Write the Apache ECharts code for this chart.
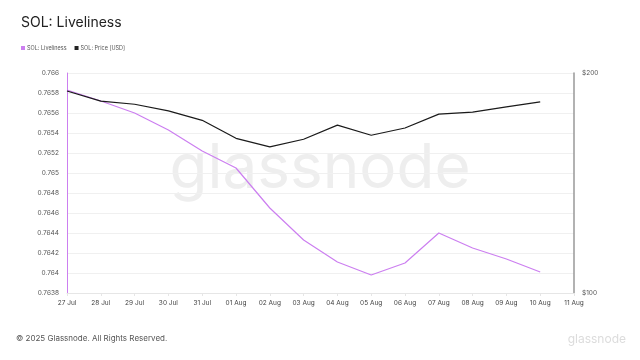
<!DOCTYPE html>
<html><head><meta charset="utf-8">
<script src="https://cdn.jsdelivr.net/npm/echarts@6/dist/echarts.min.js"></script>
<style>html,body{margin:0;padding:0;background:#fff}#c{width:640px;height:360px}</style>
</head><body><div id="c"></div>
<script>
const categories = ['27 Jul','28 Jul','29 Jul','30 Jul','31 Jul','01 Aug','02 Aug','03 Aug','04 Aug','05 Aug','06 Aug','07 Aug','08 Aug','09 Aug','10 Aug','11 Aug'];
const liveliness = [0.76583,0.76572,0.7656,0.76543,0.76522,0.76505,0.76465,0.76433,0.76411,0.76398,0.7641,0.7644,0.76425,0.76414,0.76401];
const price = [191.8,187.2,185.8,182.8,178.5,170.3,166.4,169.9,176.3,171.7,175.0,181.3,182.2,184.6,186.9];
const leftMin = 0.7638, leftMax = 0.766, leftStep = 0.0002;
const rightMin = 100, rightMax = 200;

const chart = echarts.init(document.getElementById('c'), null, {renderer:'canvas'});
const FONT = 'Inter, "Liberation Sans", sans-serif';
chart.setOption({
  animation:false,
  backgroundColor:'#fff',
  textStyle:{fontFamily:FONT},
  title:{text:'SOL: Liveliness', left:16, top:11, textStyle:{fontSize:14, fontWeight:'normal', color:'#222', fontFamily:FONT}},
  legend:{left:16, top:40, itemWidth:4, itemHeight:4, itemGap:8, icon:'rect',
    textStyle:{fontSize:5.5, color:'#555', fontFamily:FONT, padding:[0,0,0,-3]},
    data:[{name:'SOL: Liveliness', itemStyle:{color:'#cc7ff0'}},{name:'SOL: Price [USD]', itemStyle:{color:'#222'}}]},
  grid:{left:67, right:66, top:73, bottom:67},
  graphic:[
    {type:'text', left:'center', top:138, z:-1, style:{text:'glassnode', fontSize:62, fontWeight:'normal', fill:'#eeeeee', fontFamily:FONT}},
    {type:'text', left:16, top:335, style:{text:'© 2025 Glassnode. All Rights Reserved.', fontSize:8, fill:'#555', fontFamily:FONT}},
    {type:'text', right:14, top:333, style:{text:'glassnode', fontSize:12, fill:'#dcdcdc', fontFamily:FONT}}
  ],
  xAxis:{type:'category', data:categories, boundaryGap:false,
    axisLine:{show:true, lineStyle:{color:'#e6e6e6'}},
    axisTick:{show:true, alignWithLabel:true, length:3, lineStyle:{color:'#e6e6e6'}},
    axisLabel:{fontSize:6.5, color:'#444', margin:7, interval:0},
    splitLine:{show:false}},
  yAxis:[
    {type:'value', min:leftMin, max:leftMax, interval:leftStep, position:'left',
      axisLine:{show:true, lineStyle:{color:'#cc7ff0', width:1}},
      axisTick:{show:false},
      axisLabel:{fontSize:6.5, color:'#555', margin:8, formatter:v=>String(parseFloat(v.toFixed(4)))},
      splitLine:{show:true, lineStyle:{color:'#f0f0f0'}}},
    {type:'value', min:rightMin, max:rightMax, interval:100, position:'right',
      axisLine:{show:true, lineStyle:{color:'#999', width:1.5}},
      axisTick:{show:false},
      axisLabel:{fontSize:6.5, color:'#555', margin:8, formatter:v=>'$'+v},
      splitLine:{show:false}}
  ],
  series:[
    {name:'SOL: Liveliness', type:'line', yAxisIndex:0, data:liveliness, showSymbol:false, symbol:'none',
      lineStyle:{color:'#cc7ff0', width:1.2}, itemStyle:{color:'#cc7ff0'}},
    {name:'SOL: Price [USD]', type:'line', yAxisIndex:1, data:price, showSymbol:false, symbol:'none',
      lineStyle:{color:'#1a1a1a', width:1.2}, itemStyle:{color:'#1a1a1a'}}
  ]
});
</script></body></html>
